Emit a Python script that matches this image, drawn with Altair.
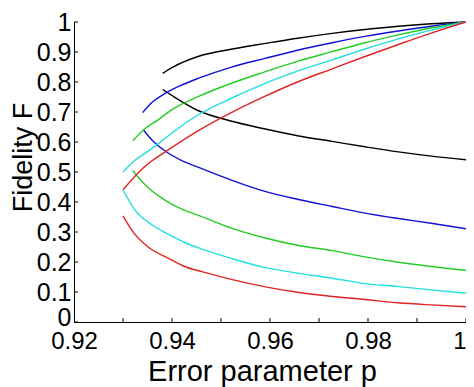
import altair as alt
import pandas as pd

# ---- data ----
series_names = ["black", "blue", "green", "cyan", "red"]
series_colors = ["#000000", "#1010d8", "#22cc22", "#22dede", "#e02424"]

black_up_p = [0.9381, 0.9400, 0.9453, 0.9520, 0.9588, 0.9656, 0.9727, 0.9794, 0.9862, 0.9929, 1.0]
black_up_F = [0.829, 0.848, 0.885, 0.909, 0.928, 0.946, 0.962, 0.975, 0.986, 0.994, 1.0]
black_lo_p = [0.9381, 0.9400, 0.9453, 0.9520, 0.9588, 0.9656, 0.9727, 0.9794, 0.9862, 0.9929, 1.0]
black_lo_F = [0.775, 0.755, 0.705, 0.670, 0.644, 0.621, 0.602, 0.584, 0.567, 0.553, 0.541]

blue_up_p = [0.9340, 0.9360, 0.9386, 0.9420, 0.9453, 0.9520, 0.9588, 0.9656, 0.9727, 0.9794, 0.9862, 0.9929, 1.0]
blue_up_F = [0.698, 0.733, 0.762, 0.790, 0.812, 0.849, 0.878, 0.906, 0.931, 0.952, 0.970, 0.986, 1.0]
blue_lo_p = [0.9342, 0.9360, 0.9386, 0.9420, 0.9453, 0.9521, 0.9588, 0.9656, 0.9727, 0.9794, 0.9862, 0.9929, 1.0]
blue_lo_F = [0.639, 0.605, 0.570, 0.538, 0.516, 0.473, 0.436, 0.409, 0.385, 0.363, 0.345, 0.329, 0.311]

green_up_p = [0.9320, 0.9345, 0.9370, 0.9400, 0.9453, 0.9520, 0.9588, 0.9656, 0.9727, 0.9794, 0.9862, 0.9929, 1.0]
green_up_F = [0.604, 0.645, 0.672, 0.708, 0.751, 0.795, 0.833, 0.869, 0.901, 0.931, 0.957, 0.980, 1.0]
green_lo_p = [0.9320, 0.9335, 0.9352, 0.9375, 0.9399, 0.9425, 0.9453, 0.9521, 0.9588, 0.9656, 0.9727, 0.9794, 0.9862, 0.9929, 1.0]
green_lo_F = [0.505, 0.475, 0.447, 0.418, 0.393, 0.373, 0.356, 0.313, 0.281, 0.256, 0.238, 0.217, 0.199, 0.185, 0.172]

cyan_up_p = [0.9300, 0.9325, 0.9350, 0.9375, 0.9400, 0.9425, 0.9453, 0.9520, 0.9588, 0.9656, 0.9727, 0.9794, 0.9862, 0.9929, 1.0]
cyan_up_F = [0.500, 0.540, 0.568, 0.598, 0.630, 0.660, 0.690, 0.745, 0.794, 0.836, 0.874, 0.910, 0.944, 0.973, 1.0]
cyan_lo_p = [0.9300, 0.9325, 0.9359, 0.9393, 0.9426, 0.9463, 0.9521, 0.9588, 0.9656, 0.9727, 0.9794, 0.9862, 0.9929, 1.0]
cyan_lo_F = [0.440, 0.372, 0.324, 0.292, 0.265, 0.242, 0.212, 0.182, 0.163, 0.146, 0.128, 0.118, 0.107, 0.096]

red_up_p = [0.9300, 0.9340, 0.9400, 0.9453, 0.9520, 0.9588, 0.9656, 0.9727, 0.9794, 0.9862, 0.9929, 1.0]
red_up_F = [0.441, 0.512, 0.582, 0.637, 0.697, 0.751, 0.800, 0.844, 0.885, 0.925, 0.963, 1.0]
red_lo_p = [0.9300, 0.9322, 0.9352, 0.9393, 0.9426, 0.9463, 0.9521, 0.9588, 0.9656, 0.9727, 0.9794, 0.9862, 0.9929, 1.0]
red_lo_F = [0.354, 0.297, 0.249, 0.212, 0.185, 0.167, 0.142, 0.118, 0.099, 0.085, 0.075, 0.064, 0.057, 0.051]

x_label_values = [0.92, 0.94, 0.96, 0.98, 1.0]
x_minor_ticks = [0.93, 0.94, 0.95, 0.96, 0.97, 0.98, 0.99, 1.0]
y_label_values = [0.0, 0.1, 0.2, 0.3, 0.4, 0.5, 0.6, 0.7, 0.8, 0.9, 1.0]

# ---- build table ----
branches = [
    ("black", "upper", black_up_p, black_up_F), ("black", "lower", black_lo_p, black_lo_F),
    ("blue", "upper", blue_up_p, blue_up_F), ("blue", "lower", blue_lo_p, blue_lo_F),
    ("green", "upper", green_up_p, green_up_F), ("green", "lower", green_lo_p, green_lo_F),
    ("cyan", "upper", cyan_up_p, cyan_up_F), ("cyan", "lower", cyan_lo_p, cyan_lo_F),
    ("red", "upper", red_up_p, red_up_F), ("red", "lower", red_lo_p, red_lo_F),
]
rows = []
for s, b, ps, fs in branches:
    for p, f in zip(ps, fs):
        rows.append({"series": s, "curve": s + "-" + b, "p": p, "F": f})
df = pd.DataFrame(rows)

W, H = 392, 300
FONT = "Liberation Sans"

xscale = alt.Scale(domain=[0.92, 1.0], nice=False, zero=False)
yscale = alt.Scale(domain=[0, 1], nice=False, zero=False)

xaxis = alt.Axis(
    values=x_label_values, format="~g", title="Error parameter p",
    labelPadding=7, labelFlush=False, labelOverlap=False, labelFontSize=24,
    labelAlign={"condition": {"test": "datum.value >= 1", "value": "right"}, "value": "center"},
    titleX=188, titleY=58, titleAlign="center", titleBaseline="alphabetic",
    titleFontSize=29)
yaxis = alt.Axis(
    values=y_label_values, format="~g", title="Fidelity F",
    labelPadding=3, labelFlush=False, labelOverlap=False, labelFontSize=25,
    labelOffset={"condition": {"test": "datum.value == 0", "value": -5}, "value": 0},
    titleX=-64, titleY=135, titleAngle=270, titleAlign="center", titleBaseline="top",
    titleFontSize=27)

X = alt.X("p:Q", scale=xscale, axis=xaxis)
Y = alt.Y("F:Q", scale=yscale, axis=yaxis)

lines = alt.Chart(df).mark_line(strokeWidth=1.4, interpolate="monotone").encode(
    x=X, y=Y,
    color=alt.Color("series:N", scale=alt.Scale(domain=series_names, range=series_colors), legend=None),
    detail="curve:N",
)

xt = alt.Chart(pd.DataFrame({"p": x_minor_ticks})).mark_rule(color="black", strokeWidth=1).encode(
    x=X,
    y=alt.value(H), y2=alt.value(H - 4),
)
yt = alt.Chart(pd.DataFrame({"F": y_label_values})).mark_rule(color="black", strokeWidth=1).encode(
    y=Y,
    x=alt.value(0), x2=alt.value(4),
)

chart = alt.layer(lines, xt, yt).properties(
    width=W, height=H,
    autosize=alt.AutoSizeParams(type="none"),
    padding={"left": 66, "top": 14, "right": 0, "bottom": 65},
    background="white",
).configure_view(stroke="transparent").configure_axis(
    domainColor="black", domainWidth=1, ticks=False, tickSize=0, grid=False,
    labelFont=FONT, labelColor="black",
    titleFont=FONT, titleColor="black", titleFontWeight="normal",
)

chart.save("out.html", embed_options={"renderer": "svg", "actions": False})
